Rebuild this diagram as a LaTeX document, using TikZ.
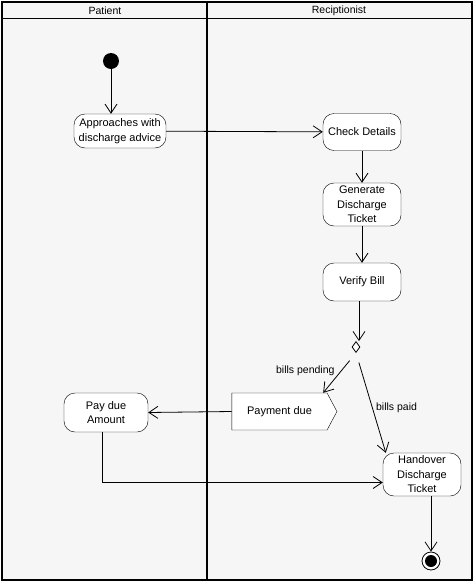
\documentclass[tikz,border=0pt]{standalone}
\usepackage{fontspec}
\setmainfont{Liberation Sans}
\usetikzlibrary{arrows.meta,shapes.geometric,shapes.symbols}
\definecolor{lanebg}{HTML}{F6F6F6}
\tikzset{
	action/.style={draw, rounded corners=11pt, fill=white, align=center, font=\fontsize{11}{14.5}\selectfont, inner sep=1pt},
	flow/.style={line width=0.8pt, -{Straight Barb[length=9pt,width=12pt,line width=0.8pt]}},
	lbl/.style={font=\fontsize{10.5}{13}\selectfont}
}

\begin{document}
\begin{tikzpicture}[x=1pt, y=-1pt]
		%%%%% START %%%%%
		\useasboundingbox (0, 0) rectangle (476, 584);
		\fill[white] (0, 0) rectangle (476, 584);
		
		% lanes
		\draw[line width=2pt, fill=lanebg] (2, 2) rectangle (472, 580);
		\draw[line width=1pt] (2, 18) -- (472, 18);
		\draw[line width=2pt] (207, 2) -- (207, 580);
		\node[font=\fontsize{10.5}{12}\selectfont] (patientlane) at (105, 10.5) {Patient};
		\node[font=\fontsize{10.5}{12}\selectfont] (reclane) at (339, 10.5) {Reciptionist};
		
		% nodes
		\node[circle, fill=black, minimum size=16pt, inner sep=0] (start) at (111, 61) {};
		\node[action, minimum width=92pt, minimum height=34pt] (approach) at (120, 131) {Approaches with\\discharge advice};
		\node[action, minimum width=78pt, minimum height=37pt] (check) at (362, 132) {Check Details};
		\node[action, minimum width=78pt, minimum height=43pt] (generate) at (362, 204.5) {Generate\\Discharge\\Ticket};
		\node[action, minimum width=78pt, minimum height=38pt] (verify) at (362, 282) {Verify Bill};
		\node[diamond, draw, fill=white, minimum width=8pt, minimum height=11pt, inner sep=0, line width=0.8pt] (decide) at (356, 347) {};
		\node[signal, signal to=east, signal pointer angle=124, draw, fill=white, minimum width=105pt, minimum height=37pt, font=\fontsize{11}{13}\selectfont, inner sep=1pt] (payment) at (279.5, 411.5) {Payment due};
		\node[action, minimum width=84pt, minimum height=39pt] (paydue) at (106, 412.5) {Pay due\\Amount};
		\node[action, minimum width=78pt, minimum height=43pt] (handover) at (422, 474.5) {Handover\\Discharge\\Ticket};
		\node[circle, draw, line width=0.8pt, fill=white, minimum size=18pt, inner sep=0] (finish) at (431, 561) {};
		\fill[black] (finish.center) circle (6);
		
		% flows
		\draw[flow] (start) -- (start |- approach.north);
		\draw[flow] (approach) -- (check);
		\draw[flow] (check) -- (generate);
		\draw[flow] (generate) -- (verify);
		\draw[flow] ([xshift=3pt]decide.north |- verify.south) -- ([xshift=3pt]decide.north);
		\draw[flow, shorten <=10pt] (decide.south) -- ([xshift=-4pt]payment.north east) node[lbl, pos=0.45, left=3pt] (pending) {bills pending};
		\draw[flow, shorten <=10pt] (decide.south) -- ([xshift=3pt]handover.north west) node[lbl, pos=0.55, right=0pt] (paid) {bills paid};
		\draw[flow] (payment.west) -- (paydue.east);
		\draw[flow] ([xshift=-4pt]paydue.south) |- ([yshift=-8pt]handover.west);
		\draw[flow] ([xshift=9pt]handover.south) -- (finish);
		%%%%% END %%%%%
	\end{tikzpicture}
\end{document}
